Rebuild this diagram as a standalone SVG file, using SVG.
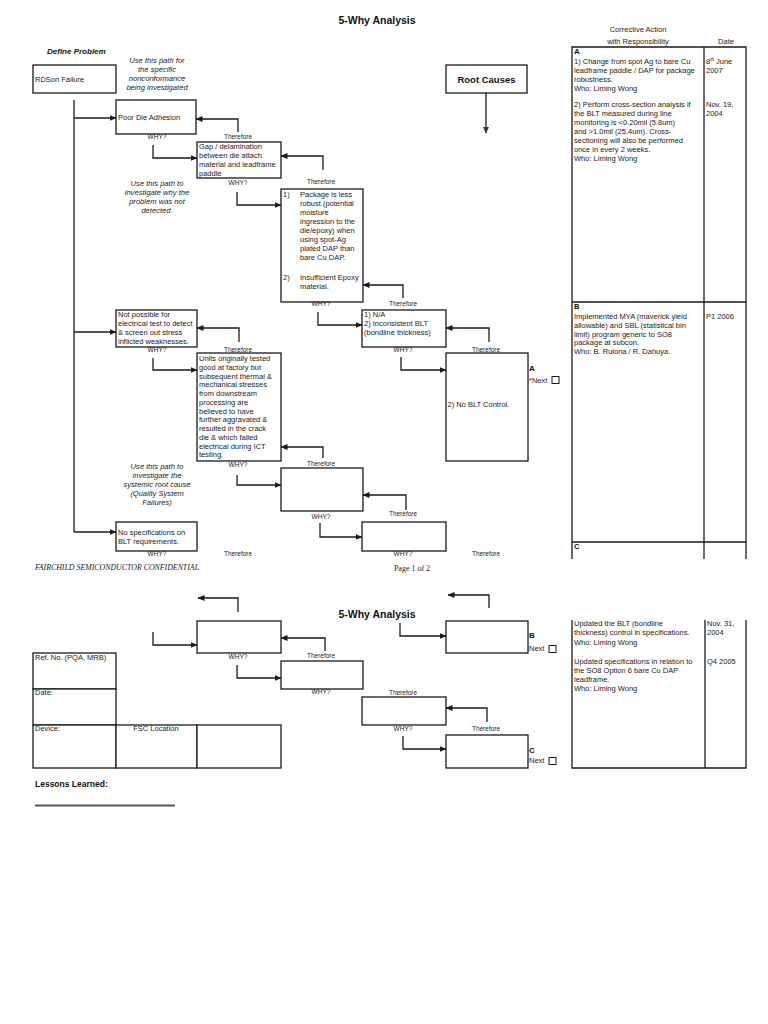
<svg xmlns="http://www.w3.org/2000/svg" width="768" height="1024" viewBox="0 0 768 1024">
<style>
.t{font-family:"Liberation Sans",Arial,sans-serif;font-size:7.5px;fill:#222}
.s{font-family:"Liberation Sans",Arial,sans-serif;font-size:6.5px;fill:#222;text-anchor:middle}
.n{font-family:"Liberation Sans",Arial,sans-serif;font-size:7.6px;font-style:italic;fill:#222;text-anchor:middle}
.h{font-family:"Liberation Sans",Arial,sans-serif;font-weight:bold;fill:#111}
.f{font-family:"Liberation Serif","Times New Roman",serif;fill:#222}
.box{fill:#fff;stroke:#1a1a1a;stroke-width:1.3}
.ln{fill:none;stroke:#1a1a1a;stroke-width:1.3}
.cn{fill:none;stroke:#1a1a1a;stroke-width:1.3;marker-end:url(#ah)}
.cb{fill:#fff;stroke:#1a1a1a;stroke-width:1}
</style>
<defs>
<marker id="ah" markerUnits="userSpaceOnUse" markerWidth="7" markerHeight="6" refX="6.5" refY="3" orient="auto">
<path d="M0,0 L7,3 L0,6 z" fill="#1a1a1a"/>
</marker>
<marker id="ahg" markerUnits="userSpaceOnUse" markerWidth="7" markerHeight="7" refX="6.5" refY="3.2" orient="auto">
<path d="M0,0 L7,3.2 L0,6.4 z" fill="#333"/>
</marker>
</defs>
<rect width="768" height="1024" fill="#fff"/>

<!-- Page 1 headings -->
<text class="h" x="377" y="24" font-size="10.5" text-anchor="middle">5-Why Analysis</text>
<text class="h" x="47" y="54" font-size="8" font-style="italic">Define Problem</text>
<text class="n"><tspan x="157" y="63">Use this path for</tspan><tspan x="157" y="72">the specific</tspan><tspan x="157" y="81">nonconformance</tspan><tspan x="157" y="90">being investigated</tspan></text>
<text class="n"><tspan x="157" y="186">Use this path to</tspan><tspan x="157" y="195">investigate why the</tspan><tspan x="157" y="204">problem was not</tspan><tspan x="157" y="213">detected.</tspan></text>
<text class="n"><tspan x="157" y="469">Use this path to</tspan><tspan x="157" y="478">investigate the</tspan><tspan x="157" y="487">systemic root cause</tspan><tspan x="157" y="496">(Quality System</tspan><tspan x="157" y="505">Failures)</tspan></text>

<!-- Connectors -->
<g id="connectors">
<polyline class="ln" points="74,100 74,532"/>
<polyline class="cn" points="74,118 116,118"/>
<polyline class="cn" points="74,332 116,332"/>
<polyline class="cn" points="74,532 116,532"/>
<polyline class="cn" points="153,145 153,158 197,158"/>
<polyline class="cn" points="238,132 238,119 196,119"/>
<polyline class="cn" points="237,192 237,205 281,205"/>
<polyline class="cn" points="323,170 323,156 281,156"/>
<polyline class="cn" points="318,312 318,325 362,325"/>
<polyline class="cn" points="403,298 403,285 363,285"/>
<polyline class="cn" points="401,357 401,370 446,370"/>
<polyline class="cn" points="489,342 489,328 446,328"/>
<polyline class="cn" points="153,358 153,370 197,370"/>
<polyline class="cn" points="239,342 239,328 197,328"/>
<polyline class="cn" points="237,475 237,485 281,485"/>
<polyline class="cn" points="323,458 323,447 281,447"/>
<polyline class="cn" points="320,523 320,537 362,537"/>
<polyline class="cn" points="406,510 406,495 363,495"/>
<line x1="486" y1="93" x2="486" y2="133" stroke="#444" stroke-width="1.6" marker-end="url(#ahg)"/>
<!-- page 2 -->
<polyline class="cn" points="238,612 238,598 198,598"/>
<polyline class="cn" points="489,608 489,595 448,595"/>
<polyline class="cn" points="153,632 153,645 197,645"/>
<polyline class="cn" points="325,651 325,638 281,638"/>
<polyline class="cn" points="237,665 237,678 281,678"/>
<polyline class="cn" points="487,722 487,708 446,708"/>
<polyline class="cn" points="403,736 403,749 446,749"/>
<polyline class="cn" points="400,623 400,636 446,636"/>
</g>

<!-- Nodes page 1 -->
<g id="rdson"><rect class="box" x="33" y="65" width="83" height="28"/><text class="t" x="35" y="82">RDSon Failure</text></g>
<g id="rootcauses"><rect class="box" x="446" y="65" width="81" height="28"/><text class="h" x="486.5" y="82.5" font-size="9.5" text-anchor="middle">Root Causes</text></g>
<g id="poordie"><rect class="box" x="116" y="100" width="80" height="34"/><text class="t" x="118" y="120">Poor Die Adhesion</text></g>
<g id="gap"><rect class="box" x="197" y="142" width="84" height="36"/><text class="t"><tspan x="199" y="149">Gap / delamination</tspan><tspan x="199" y="158">between die attach</tspan><tspan x="199" y="167">material and leadframe</tspan><tspan x="199" y="176">paddle</tspan></text></g>
<g id="package"><rect class="box" x="281" y="189" width="82" height="113"/><text class="t"><tspan x="283" y="197">1)</tspan><tspan x="300" y="197">Package is less</tspan><tspan x="300" y="206">robust (potential</tspan><tspan x="300" y="215">moisture</tspan><tspan x="300" y="224">ingression to the</tspan><tspan x="300" y="233">die/epoxy) when</tspan><tspan x="300" y="242">using spot-Ag</tspan><tspan x="300" y="251">plated DAP than</tspan><tspan x="300" y="260">bare Cu DAP.</tspan><tspan x="283" y="280">2)</tspan><tspan x="300" y="280">Insufficient Epoxy</tspan><tspan x="300" y="289">material.</tspan></text></g>
<g id="na"><rect class="box" x="362" y="310" width="84" height="37"/><text class="t"><tspan x="364" y="317">1) N/A</tspan><tspan x="364" y="326">2) Inconsistent BLT</tspan><tspan x="364" y="335">(bondline thickness)</tspan></text></g>
<g id="noblt"><rect class="box" x="446" y="353" width="82" height="108"/><text class="t" x="447.5" y="407">2) No BLT Control.</text>
<text class="h" x="529" y="371" font-size="8">A</text><text class="t" x="529" y="383">*Next</text><rect class="cb" x="552" y="376.5" width="7" height="7"/></g>
<g id="notpossible"><rect class="box" x="116" y="310" width="81" height="37"/><text class="t"><tspan x="118" y="317">Not possible for</tspan><tspan x="118" y="326">electrical test to detect</tspan><tspan x="118" y="335">&amp; screen out stress</tspan><tspan x="118" y="344">inflicted weaknesses.</tspan></text></g>
<g id="units"><rect class="box" x="197" y="353" width="84" height="108"/><text class="t"><tspan x="199" y="361">Units originally tested</tspan><tspan x="199" y="369.8">good at factory but</tspan><tspan x="199" y="378.5">subsequent thermal &amp;</tspan><tspan x="199" y="387.3">mechanical stresses</tspan><tspan x="199" y="396">from downstream</tspan><tspan x="199" y="404.8">processing are</tspan><tspan x="199" y="413.5">believed to have</tspan><tspan x="199" y="422.3">further aggravated &amp;</tspan><tspan x="199" y="431">resulted in the crack</tspan><tspan x="199" y="439.8">die &amp; which failed</tspan><tspan x="199" y="448.5">electrical during ICT</tspan><tspan x="199" y="457.3">testing.</tspan></text></g>
<g id="box6"><rect class="box" x="281" y="468" width="82" height="43"/></g>
<g id="box7"><rect class="box" x="362" y="522" width="84" height="29"/></g>
<g id="nospec"><rect class="box" x="116" y="522" width="81" height="29"/><text class="t"><tspan x="118" y="535">No specifications on</tspan><tspan x="118" y="544">BLT requirements.</tspan></text></g>

<!-- WHY / Therefore labels page 1 -->
<g id="labels1">
<text class="s" x="157" y="139">WHY?</text><text class="s" x="238" y="139">Therefore</text>
<text class="s" x="238" y="185">WHY?</text><text class="s" x="321" y="184">Therefore</text>
<text class="s" x="321" y="306">WHY?</text><text class="s" x="403" y="306">Therefore</text>
<text class="s" x="403" y="352">WHY?</text><text class="s" x="486" y="352">Therefore</text>
<text class="s" x="157" y="352">WHY?</text><text class="s" x="238" y="352">Therefore</text>
<text class="s" x="238" y="467">WHY?</text><text class="s" x="321" y="466">Therefore</text>
<text class="s" x="321" y="519">WHY?</text><text class="s" x="403" y="516">Therefore</text>
<text class="s" x="403" y="556">WHY?</text><text class="s" x="486" y="556">Therefore</text>
<text class="s" x="157" y="556">WHY?</text><text class="s" x="238" y="556">Therefore</text>
</g>

<!-- Corrective action table page 1 -->
<g id="table1">
<text class="t" x="638" y="32" text-anchor="middle">Corrective Action</text>
<text class="t" x="638" y="44" text-anchor="middle">with Responsibility</text>
<text class="t" x="726" y="44" text-anchor="middle">Date</text>
<polyline class="ln" points="572,559 572,47 746,47 746,559"/>
<line class="ln" x1="704" y1="47" x2="704" y2="559"/>
<line class="ln" x1="572" y1="302" x2="746" y2="302"/>
<line class="ln" x1="572" y1="542" x2="746" y2="542"/>
<text class="h" x="574" y="54" font-size="8">A</text>
<text class="t"><tspan x="574" y="64">1) Change from spot Ag to bare Cu</tspan><tspan x="574" y="72.9">leadframe paddle / DAP for package</tspan><tspan x="574" y="81.8">robustness.</tspan><tspan x="574" y="90.7">Who: Liming Wong</tspan><tspan x="574" y="107">2) Perform cross-section analysis if</tspan><tspan x="574" y="116">the BLT measured during line</tspan><tspan x="574" y="125">monitoring is &lt;0.20mil (5.8um)</tspan><tspan x="574" y="134">and &gt;1.0mil (25.4um). Cross-</tspan><tspan x="574" y="143">sectioning will also be performed</tspan><tspan x="574" y="152">once in every 2 weeks.</tspan><tspan x="574" y="161">Who: Liming Wong</tspan></text>
<text class="t" x="706" y="64">8<tspan font-size="4.5" dy="-3">th</tspan><tspan dy="3"> June</tspan></text>
<text class="t"><tspan x="706" y="72.9">2007</tspan><tspan x="706" y="107">Nov. 19,</tspan><tspan x="706" y="116">2004</tspan></text>
<text class="h" x="574" y="309" font-size="7.5">B</text>
<text class="t"><tspan x="574" y="319">Implemented MYA (maverick yield</tspan><tspan x="574" y="328">allowable) and SBL (statistical bin</tspan><tspan x="574" y="336.5">limit) program generic to SO8</tspan><tspan x="574" y="345">package at subcon.</tspan><tspan x="574" y="354">Who: B. Rulona / R. Dahuya.</tspan></text>
<text class="t" x="706" y="319">P1 2006</text>
<text class="h" x="574" y="549" font-size="7.5">C</text>
</g>

<!-- footer -->
<text class="f" x="35" y="570" font-size="7.6" font-style="italic" textLength="164" lengthAdjust="spacingAndGlyphs">FAIRCHILD SEMICONDUCTOR CONFIDENTIAL</text>
<text class="f" x="412" y="571" font-size="8" text-anchor="middle">Page 1 of 2</text>

<!-- Page 2 -->
<text class="h" x="377" y="618" font-size="10.5" text-anchor="middle">5-Why Analysis</text>
<g id="p2box1"><rect class="box" x="197" y="621" width="84" height="32"/></g>
<g id="p2box2"><rect class="box" x="281" y="661" width="82" height="28"/></g>
<g id="p2box3"><rect class="box" x="362" y="697" width="84" height="28"/></g>
<g id="p2boxB"><rect class="box" x="446" y="621" width="82" height="32"/>
<text class="h" x="529" y="638" font-size="8">B</text><text class="t" x="529" y="651">Next</text><rect class="cb" x="549" y="645.5" width="7" height="7"/></g>
<g id="p2boxC"><rect class="box" x="446" y="735" width="82" height="33"/>
<text class="h" x="529" y="753" font-size="8">C</text><text class="t" x="529" y="763">Next</text><rect class="cb" x="549" y="757.5" width="7" height="7"/></g>
<g id="labels2">
<text class="s" x="238" y="659">WHY?</text><text class="s" x="321" y="658">Therefore</text>
<text class="s" x="321" y="694">WHY?</text><text class="s" x="403" y="695">Therefore</text>
<text class="s" x="403" y="731">WHY?</text><text class="s" x="486" y="731">Therefore</text>
</g>
<g id="reftable">
<rect class="box" x="33" y="653" width="83" height="36"/>
<rect class="box" x="33" y="689" width="83" height="36"/>
<rect class="box" x="33" y="725" width="83" height="43"/>
<rect class="box" x="116" y="725" width="81" height="43"/>
<rect class="box" x="197" y="725" width="84" height="43"/>
<text class="t" x="35" y="660" font-size="6.5">Ref. No. (PQA, MRB)</text>
<text class="t" x="35" y="695" font-size="6.5">Date:</text>
<text class="t" x="35" y="731" font-size="6.5">Device:</text>
<text class="t" x="156" y="731" font-size="6.5" text-anchor="middle">FSC Location</text>
</g>
<text class="h" x="35" y="787" font-size="8.5">Lessons Learned:</text>
<line x1="35" y1="805.5" x2="175" y2="805.5" stroke="#555" stroke-width="1.8"/>
<g id="table2">
<polyline class="ln" points="572,620 572,768 746,768 746,620"/>
<line class="ln" x1="705" y1="620" x2="705" y2="768"/>
<text class="t"><tspan x="574" y="626">Updated the BLT (bondline</tspan><tspan x="574" y="635">thickness) control in specifications.</tspan><tspan x="574" y="644.5">Who: Liming Wong</tspan><tspan x="574" y="664">Updated specifications in relation to</tspan><tspan x="574" y="673">the SO8 Option 6 bare Cu DAP</tspan><tspan x="574" y="682">leadframe.</tspan><tspan x="574" y="691">Who: Liming Wong</tspan></text>
<text class="t"><tspan x="707" y="626">Nov. 31,</tspan><tspan x="707" y="635">2004</tspan><tspan x="707" y="664">Q4 2005</tspan></text>
</g>
</svg>
